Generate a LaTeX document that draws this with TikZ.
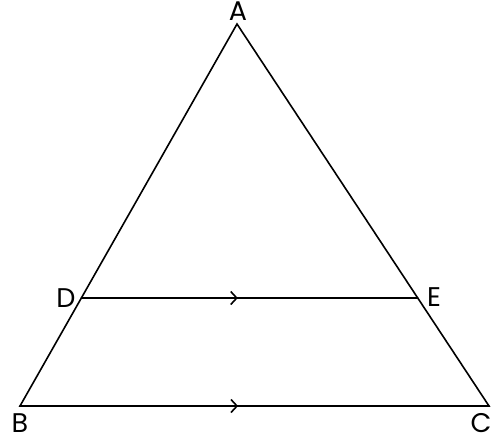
\documentclass[tikz,border=0pt]{standalone}
\usepackage{fontspec}
\setmainfont{Poppins}
\usetikzlibrary{arrows.meta,decorations.markings}
\tikzset{
  edge/.style={line width=1.6pt, line cap=round, line join=miter},
  parmark/.style={postaction={decorate},decoration={markings,
    mark=at position 0.465 with {\arrow[line width=1.6pt]{Straight Barb[length=6pt,width=13pt]}}}},
  lbl/.style={font=\fontsize{27}{27}\selectfont, inner sep=0pt}
}
\begin{document}
\begin{tikzpicture}[x=1pt,y=-1pt]
\useasboundingbox (0,0) rectangle (502,445);
\coordinate (A) at (237,24);
\coordinate (B) at (20,406);
\coordinate (C) at (489,406);
\coordinate (D) at (81.4,298);
\coordinate (E) at (417.8,298);
\draw[edge] (A) -- (B) -- (C) -- cycle;
\draw[edge,parmark] (D) -- (E);
\draw[edge,parmark] (B) -- (C);
\node[lbl] (la) at (238,11) {A};
\node[lbl] (lb) at (20,423) {B};
\node[lbl] (lc) at (481,423) {C};
\node[lbl] (ld) at (66,298) {D};
\node[lbl] (le) at (434,297) {E};
\end{tikzpicture}
\end{document}
